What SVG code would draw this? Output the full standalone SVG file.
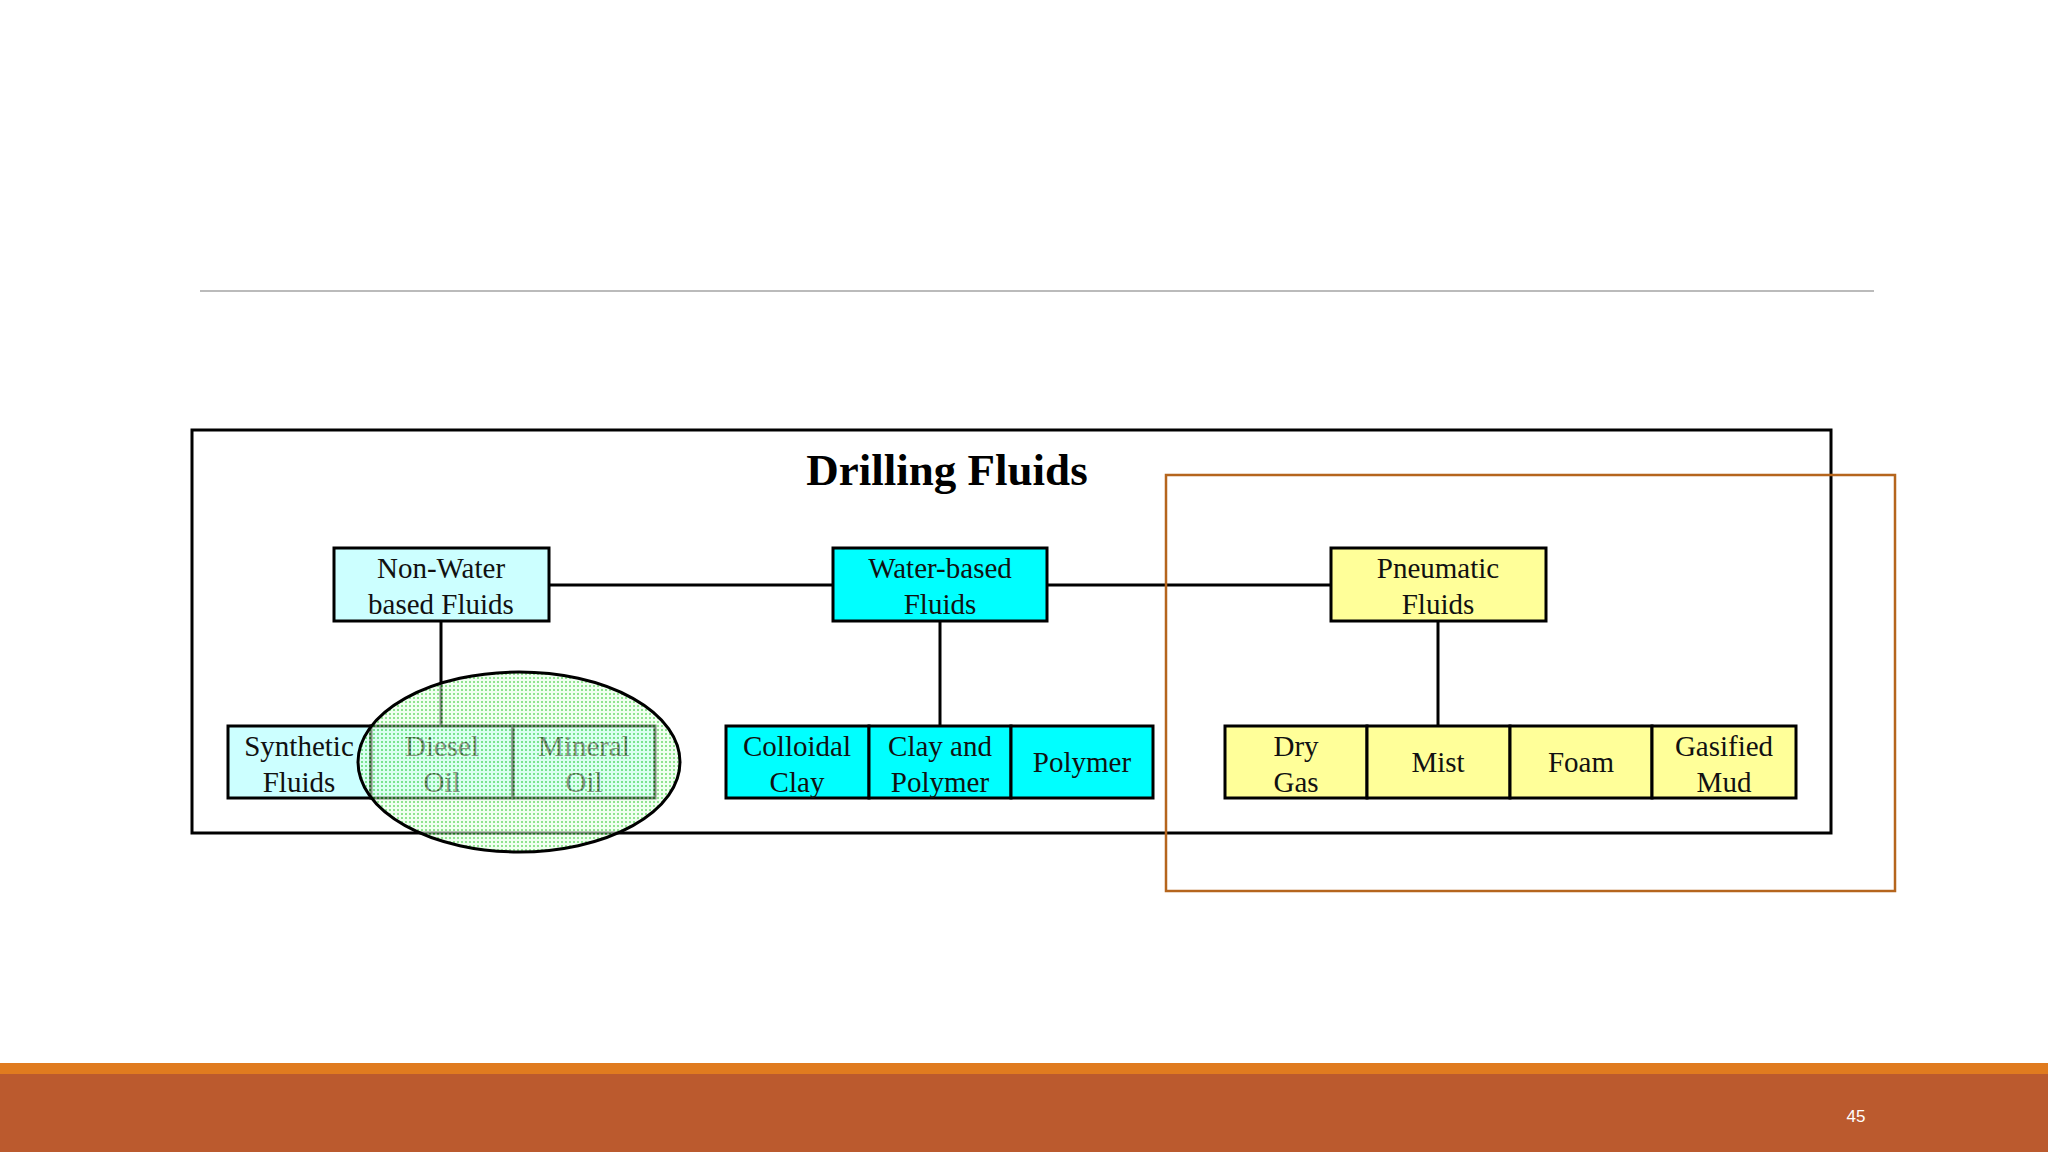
<svg xmlns="http://www.w3.org/2000/svg" width="2048" height="1152" viewBox="0 0 2048 1152">
<defs>
<pattern id="dots" width="4" height="4" patternUnits="userSpaceOnUse">
<rect width="4" height="4" fill="#e6ffe6"/>
<rect x="1" y="1" width="2" height="2" fill="#33cc33"/>
</pattern>
</defs>
<style>
.b{stroke:#000;stroke-width:3}
.lc{fill:#ccffff}.c{fill:#00ffff}.y{fill:#ffff99}
.t{font-family:"Liberation Serif",serif;font-size:29px;text-anchor:middle;fill:#111}
.ln{stroke:#000;stroke-width:3;fill:none}
</style>
<rect width="2048" height="1152" fill="#fff"/>
<line x1="200" y1="291" x2="1874" y2="291" stroke="#bbb" stroke-width="2"/>
<rect x="192" y="430" width="1639" height="403" fill="none" stroke="#000" stroke-width="3"/>
<text x="947" y="485" font-family="Liberation Serif,serif" font-size="45" font-weight="bold" text-anchor="middle">Drilling Fluids</text>
<g id="connectors">
<line class="ln" x1="549" y1="585" x2="1331" y2="585"/>
<line class="ln" x1="441" y1="621" x2="441" y2="726"/>
<line class="ln" x1="940" y1="621" x2="940" y2="726"/>
<line class="ln" x1="1438" y1="621" x2="1438" y2="726"/>
</g>
<g id="nonwater"><rect class="b lc" x="334" y="548" width="215" height="73"/><text class="t" x="441" y="578">Non-Water</text><text class="t" x="441" y="614">based Fluids</text></g>
<g id="waterbased"><rect class="b c" x="833" y="548" width="214" height="73"/><text class="t" x="940" y="578">Water-based</text><text class="t" x="940" y="614">Fluids</text></g>
<g id="pneumatic"><rect class="b y" x="1331" y="548" width="215" height="73"/><text class="t" x="1438" y="578">Pneumatic</text><text class="t" x="1438" y="614">Fluids</text></g>
<g id="synthetic"><rect class="b lc" x="228" y="726" width="143" height="72"/><text class="t" x="299" y="756">Synthetic</text><text class="t" x="299" y="792">Fluids</text></g>
<g id="diesel"><rect class="b lc" x="371" y="726" width="142" height="72"/><text class="t" x="442" y="756">Diesel</text><text class="t" x="442" y="792">Oil</text></g>
<g id="mineral"><rect class="b lc" x="513" y="726" width="142" height="72"/><text class="t" x="584" y="756">Mineral</text><text class="t" x="584" y="792">Oil</text></g>
<g id="ellipse"><ellipse cx="519" cy="762" rx="161" ry="90" fill="url(#dots)" fill-opacity="0.55" stroke="#000" stroke-width="3"/></g>
<g id="colloidal"><rect class="b c" x="726" y="726" width="143" height="72"/><text class="t" x="797" y="756">Colloidal</text><text class="t" x="797" y="792">Clay</text></g>
<g id="claypoly"><rect class="b c" x="869" y="726" width="142" height="72"/><text class="t" x="940" y="756">Clay and</text><text class="t" x="940" y="792">Polymer</text></g>
<g id="polymer"><rect class="b c" x="1011" y="726" width="142" height="72"/><text class="t" x="1082" y="772">Polymer</text></g>
<g id="drygas"><rect class="b y" x="1225" y="726" width="142" height="72"/><text class="t" x="1296" y="756">Dry</text><text class="t" x="1296" y="792">Gas</text></g>
<g id="mist"><rect class="b y" x="1367" y="726" width="143" height="72"/><text class="t" x="1438" y="772">Mist</text></g>
<g id="foam"><rect class="b y" x="1510" y="726" width="142" height="72"/><text class="t" x="1581" y="772">Foam</text></g>
<g id="gasified"><rect class="b y" x="1652" y="726" width="144" height="72"/><text class="t" x="1724" y="756">Gasified</text><text class="t" x="1724" y="792">Mud</text></g>
<rect x="1166" y="475" width="729" height="416" fill="none" stroke="#b5651d" stroke-width="2.5"/>
<rect x="0" y="1063" width="2048" height="11" fill="#e07b1f"/>
<rect x="0" y="1074" width="2048" height="78" fill="#bb5a2e"/>
<text x="1856" y="1122" font-family="Liberation Sans,sans-serif" font-size="17" fill="#fff" text-anchor="middle">45</text>
</svg>
